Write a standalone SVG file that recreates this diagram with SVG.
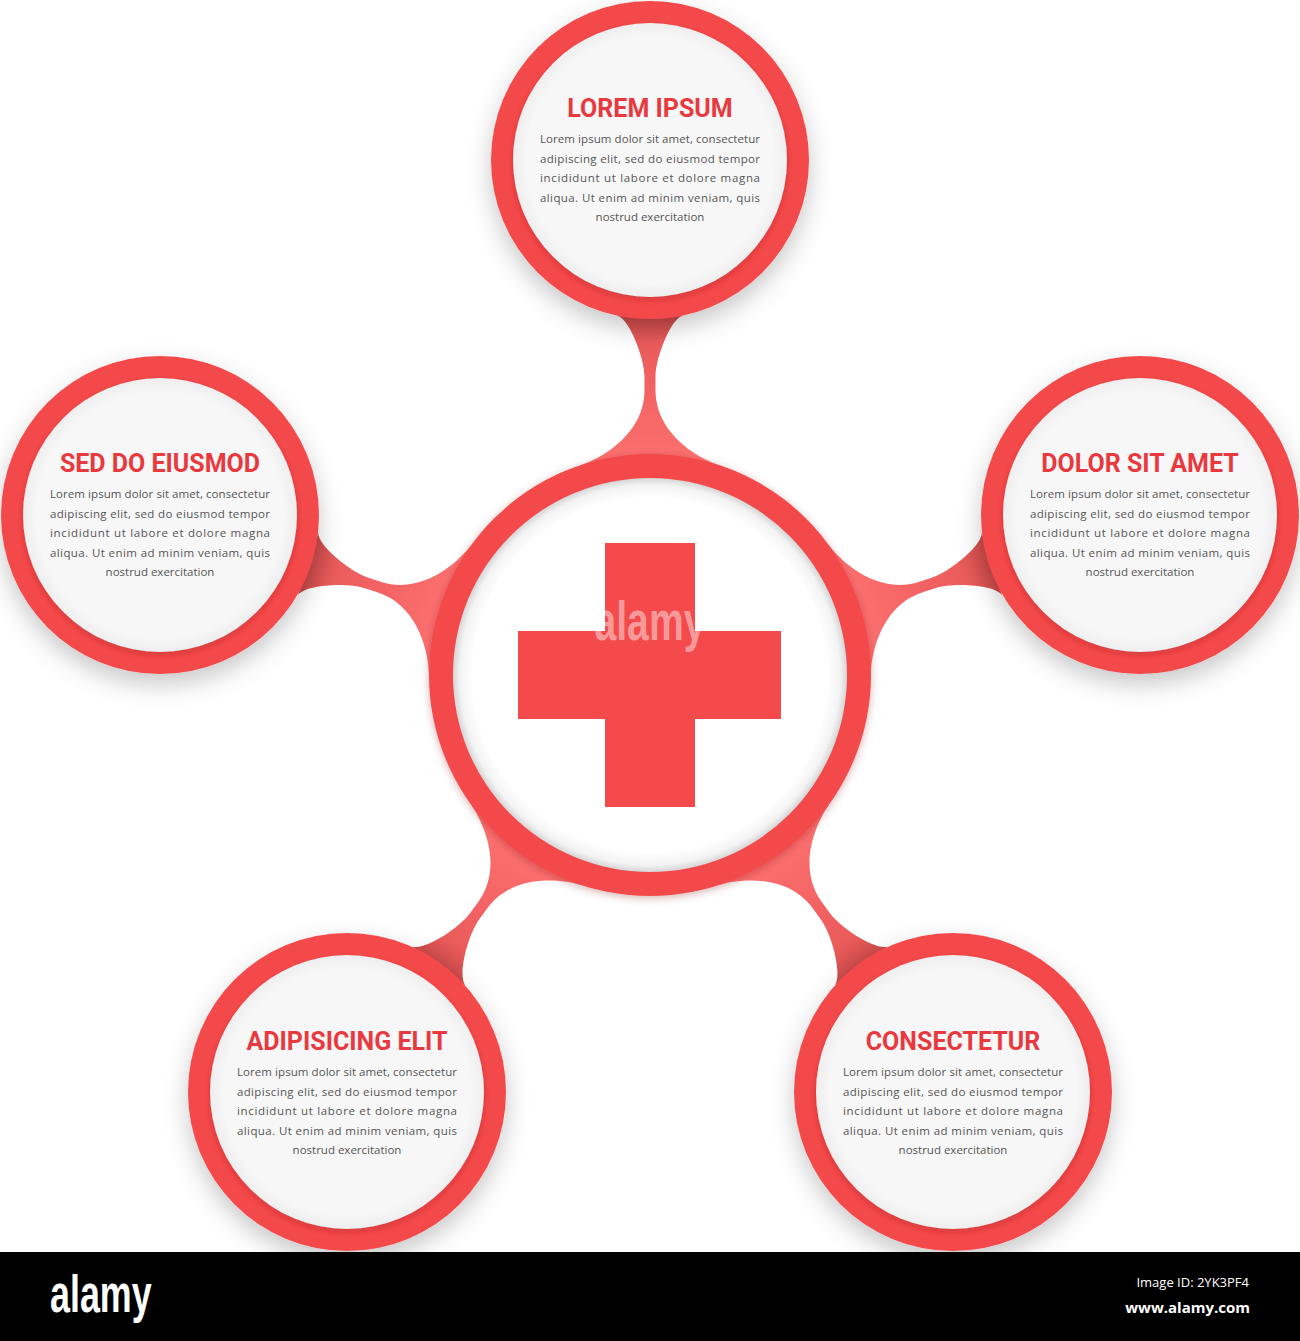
<svg xmlns="http://www.w3.org/2000/svg" width="1300" height="1341" viewBox="0 0 1300 1341">
<defs>
<style>
.ring{fill:#f44a4b}
.inner{fill:#f7f7f7}
.title{font-family:Roboto,"Liberation Sans",sans-serif;font-weight:700;font-size:25px;fill:#e9393f;text-anchor:middle}
.body{font-family:"Open Sans","Liberation Sans",sans-serif;font-size:11.5px;fill:#555555}
.last{text-anchor:middle}
.conn{fill:url(#cg)}
</style>
<linearGradient id="cg" gradientUnits="userSpaceOnUse" x1="210" y1="0" x2="362" y2="0">
<stop offset="0" stop-color="#fc7171"/>
<stop offset="0.45" stop-color="#f56464"/>
<stop offset="0.8" stop-color="#ea5b5b"/>
<stop offset="1" stop-color="#c94848"/>
</linearGradient>
<radialGradient id="cin" cx="0.5" cy="0.5" r="0.5">
<stop offset="0.9" stop-color="#ffffff"/>
<stop offset="0.965" stop-color="#f3f3f3"/>
<stop offset="1" stop-color="#d6d6d6"/>
</radialGradient>
<radialGradient id="nin" cx="0.5" cy="0.5" r="0.5">
<stop offset="0.9" stop-color="#f7f7f7"/>
<stop offset="1" stop-color="#eeeeee"/>
</radialGradient>
<filter id="sh" x="-40%" y="-40%" width="180%" height="180%">
<feDropShadow dx="0" dy="10" stdDeviation="12" flood-color="#000" flood-opacity="0.22"/>
</filter>
<filter id="sh2" x="-20%" y="-20%" width="140%" height="140%">
<feDropShadow dx="0" dy="3" stdDeviation="3" flood-color="#9a1f1f" flood-opacity="0.35"/>
</filter>
<filter id="sh3" x="-20%" y="-20%" width="140%" height="140%">
<feDropShadow dx="0" dy="2" stdDeviation="4" flood-color="#7a1010" flood-opacity="0.3"/>
</filter>
<path id="cp" d="M210.2,-68.3 C214.8,-54 238,-5.5 285,-5.5 L298,-5.5 C318,-5.5 357,-21.3 359.5,-33 L359.5,33 C357,21.3 318,5.5 298,5.5 L285,5.5 C238,5.5 214.8,54 210.2,68.3 Z"/>
</defs>
<rect width="1300" height="1341" fill="#ffffff"/>

<g id="connectors" class="conn">
<use href="#cp" transform="translate(650,675) rotate(-90)"/>
<use href="#cp" transform="translate(650,675) rotate(-162)"/>
<use href="#cp" transform="translate(650,675) rotate(-18)"/>
<use href="#cp" transform="translate(650,675) rotate(126)"/>
<use href="#cp" transform="translate(650,675) rotate(54)"/>
</g>

<g id="center">
<circle cx="650" cy="675" r="221" class="ring" filter="url(#sh3)"/>
<circle cx="650" cy="675" r="197" fill="url(#cin)"/>
<rect x="605" y="543" width="90" height="264" fill="#f44a4b"/>
<rect x="518" y="631" width="263" height="88" fill="#f44a4b"/>
<text x="650" y="640" font-family="'Liberation Sans',sans-serif" font-weight="700" font-size="56" fill="#ffffff" fill-opacity="0.45" text-anchor="middle" transform="translate(650,0) scale(0.7,1) translate(-650,0)">alamy</text>
</g>

<g id="node-top">
<circle cx="650" cy="160" r="159" class="ring" filter="url(#sh)"/>
<circle cx="650" cy="160" r="137" fill="url(#nin)" filter="url(#sh2)"/>
<text class="title" x="650" y="117">LOREM IPSUM</text>
<text class="body" x="540" y="143" textLength="220" lengthAdjust="spacing">Lorem ipsum dolor sit amet, consectetur</text>
<text class="body" x="540" y="162.5" textLength="220" lengthAdjust="spacing">adipiscing elit, sed do eiusmod tempor</text>
<text class="body" x="540" y="182" textLength="220" lengthAdjust="spacing">incididunt ut labore et dolore magna</text>
<text class="body" x="540" y="201.5" textLength="220" lengthAdjust="spacing">aliqua. Ut enim ad minim veniam, quis</text>
<text class="body last" x="650" y="221">nostrud exercitation</text>
</g>

<g id="node-left">
<circle cx="160" cy="515" r="159" class="ring" filter="url(#sh)"/>
<circle cx="160" cy="515" r="137" fill="url(#nin)" filter="url(#sh2)"/>
<text class="title" x="160" y="472">SED DO EIUSMOD</text>
<text class="body" x="50" y="498" textLength="220" lengthAdjust="spacing">Lorem ipsum dolor sit amet, consectetur</text>
<text class="body" x="50" y="517.5" textLength="220" lengthAdjust="spacing">adipiscing elit, sed do eiusmod tempor</text>
<text class="body" x="50" y="537" textLength="220" lengthAdjust="spacing">incididunt ut labore et dolore magna</text>
<text class="body" x="50" y="556.5" textLength="220" lengthAdjust="spacing">aliqua. Ut enim ad minim veniam, quis</text>
<text class="body last" x="160" y="576">nostrud exercitation</text>
</g>

<g id="node-right">
<circle cx="1140" cy="515" r="159" class="ring" filter="url(#sh)"/>
<circle cx="1140" cy="515" r="137" fill="url(#nin)" filter="url(#sh2)"/>
<text class="title" x="1140" y="472">DOLOR SIT AMET</text>
<text class="body" x="1030" y="498" textLength="220" lengthAdjust="spacing">Lorem ipsum dolor sit amet, consectetur</text>
<text class="body" x="1030" y="517.5" textLength="220" lengthAdjust="spacing">adipiscing elit, sed do eiusmod tempor</text>
<text class="body" x="1030" y="537" textLength="220" lengthAdjust="spacing">incididunt ut labore et dolore magna</text>
<text class="body" x="1030" y="556.5" textLength="220" lengthAdjust="spacing">aliqua. Ut enim ad minim veniam, quis</text>
<text class="body last" x="1140" y="576">nostrud exercitation</text>
</g>

<g id="node-bottom-left">
<circle cx="347" cy="1092" r="159" class="ring" filter="url(#sh)"/>
<circle cx="347" cy="1092" r="137" fill="url(#nin)" filter="url(#sh2)"/>
<text class="title" x="347" y="1050">ADIPISICING ELIT</text>
<text class="body" x="237" y="1076" textLength="220" lengthAdjust="spacing">Lorem ipsum dolor sit amet, consectetur</text>
<text class="body" x="237" y="1095.5" textLength="220" lengthAdjust="spacing">adipiscing elit, sed do eiusmod tempor</text>
<text class="body" x="237" y="1115" textLength="220" lengthAdjust="spacing">incididunt ut labore et dolore magna</text>
<text class="body" x="237" y="1134.5" textLength="220" lengthAdjust="spacing">aliqua. Ut enim ad minim veniam, quis</text>
<text class="body last" x="347" y="1154">nostrud exercitation</text>
</g>

<g id="node-bottom-right">
<circle cx="953" cy="1092" r="159" class="ring" filter="url(#sh)"/>
<circle cx="953" cy="1092" r="137" fill="url(#nin)" filter="url(#sh2)"/>
<text class="title" x="953" y="1050">CONSECTETUR</text>
<text class="body" x="843" y="1076" textLength="220" lengthAdjust="spacing">Lorem ipsum dolor sit amet, consectetur</text>
<text class="body" x="843" y="1095.5" textLength="220" lengthAdjust="spacing">adipiscing elit, sed do eiusmod tempor</text>
<text class="body" x="843" y="1115" textLength="220" lengthAdjust="spacing">incididunt ut labore et dolore magna</text>
<text class="body" x="843" y="1134.5" textLength="220" lengthAdjust="spacing">aliqua. Ut enim ad minim veniam, quis</text>
<text class="body last" x="953" y="1154">nostrud exercitation</text>
</g>

<g id="footer">
<rect x="0" y="1252" width="1300" height="89" fill="#000000"/>
<text x="50" y="1312" font-family="'Liberation Sans',sans-serif" font-weight="700" font-size="52" fill="#ffffff" transform="translate(50,0) scale(0.69,1) translate(-50,0)">alamy</text>
<text x="1249" y="1287" font-family="'Open Sans','Liberation Sans',sans-serif" font-size="13" fill="#ffffff" text-anchor="end">Image ID: 2YK3PF4</text>
<text x="1250" y="1313" font-family="'Open Sans','Liberation Sans',sans-serif" font-weight="700" font-size="15" fill="#ffffff" text-anchor="end">www.alamy.com</text>
</g>
</svg>
